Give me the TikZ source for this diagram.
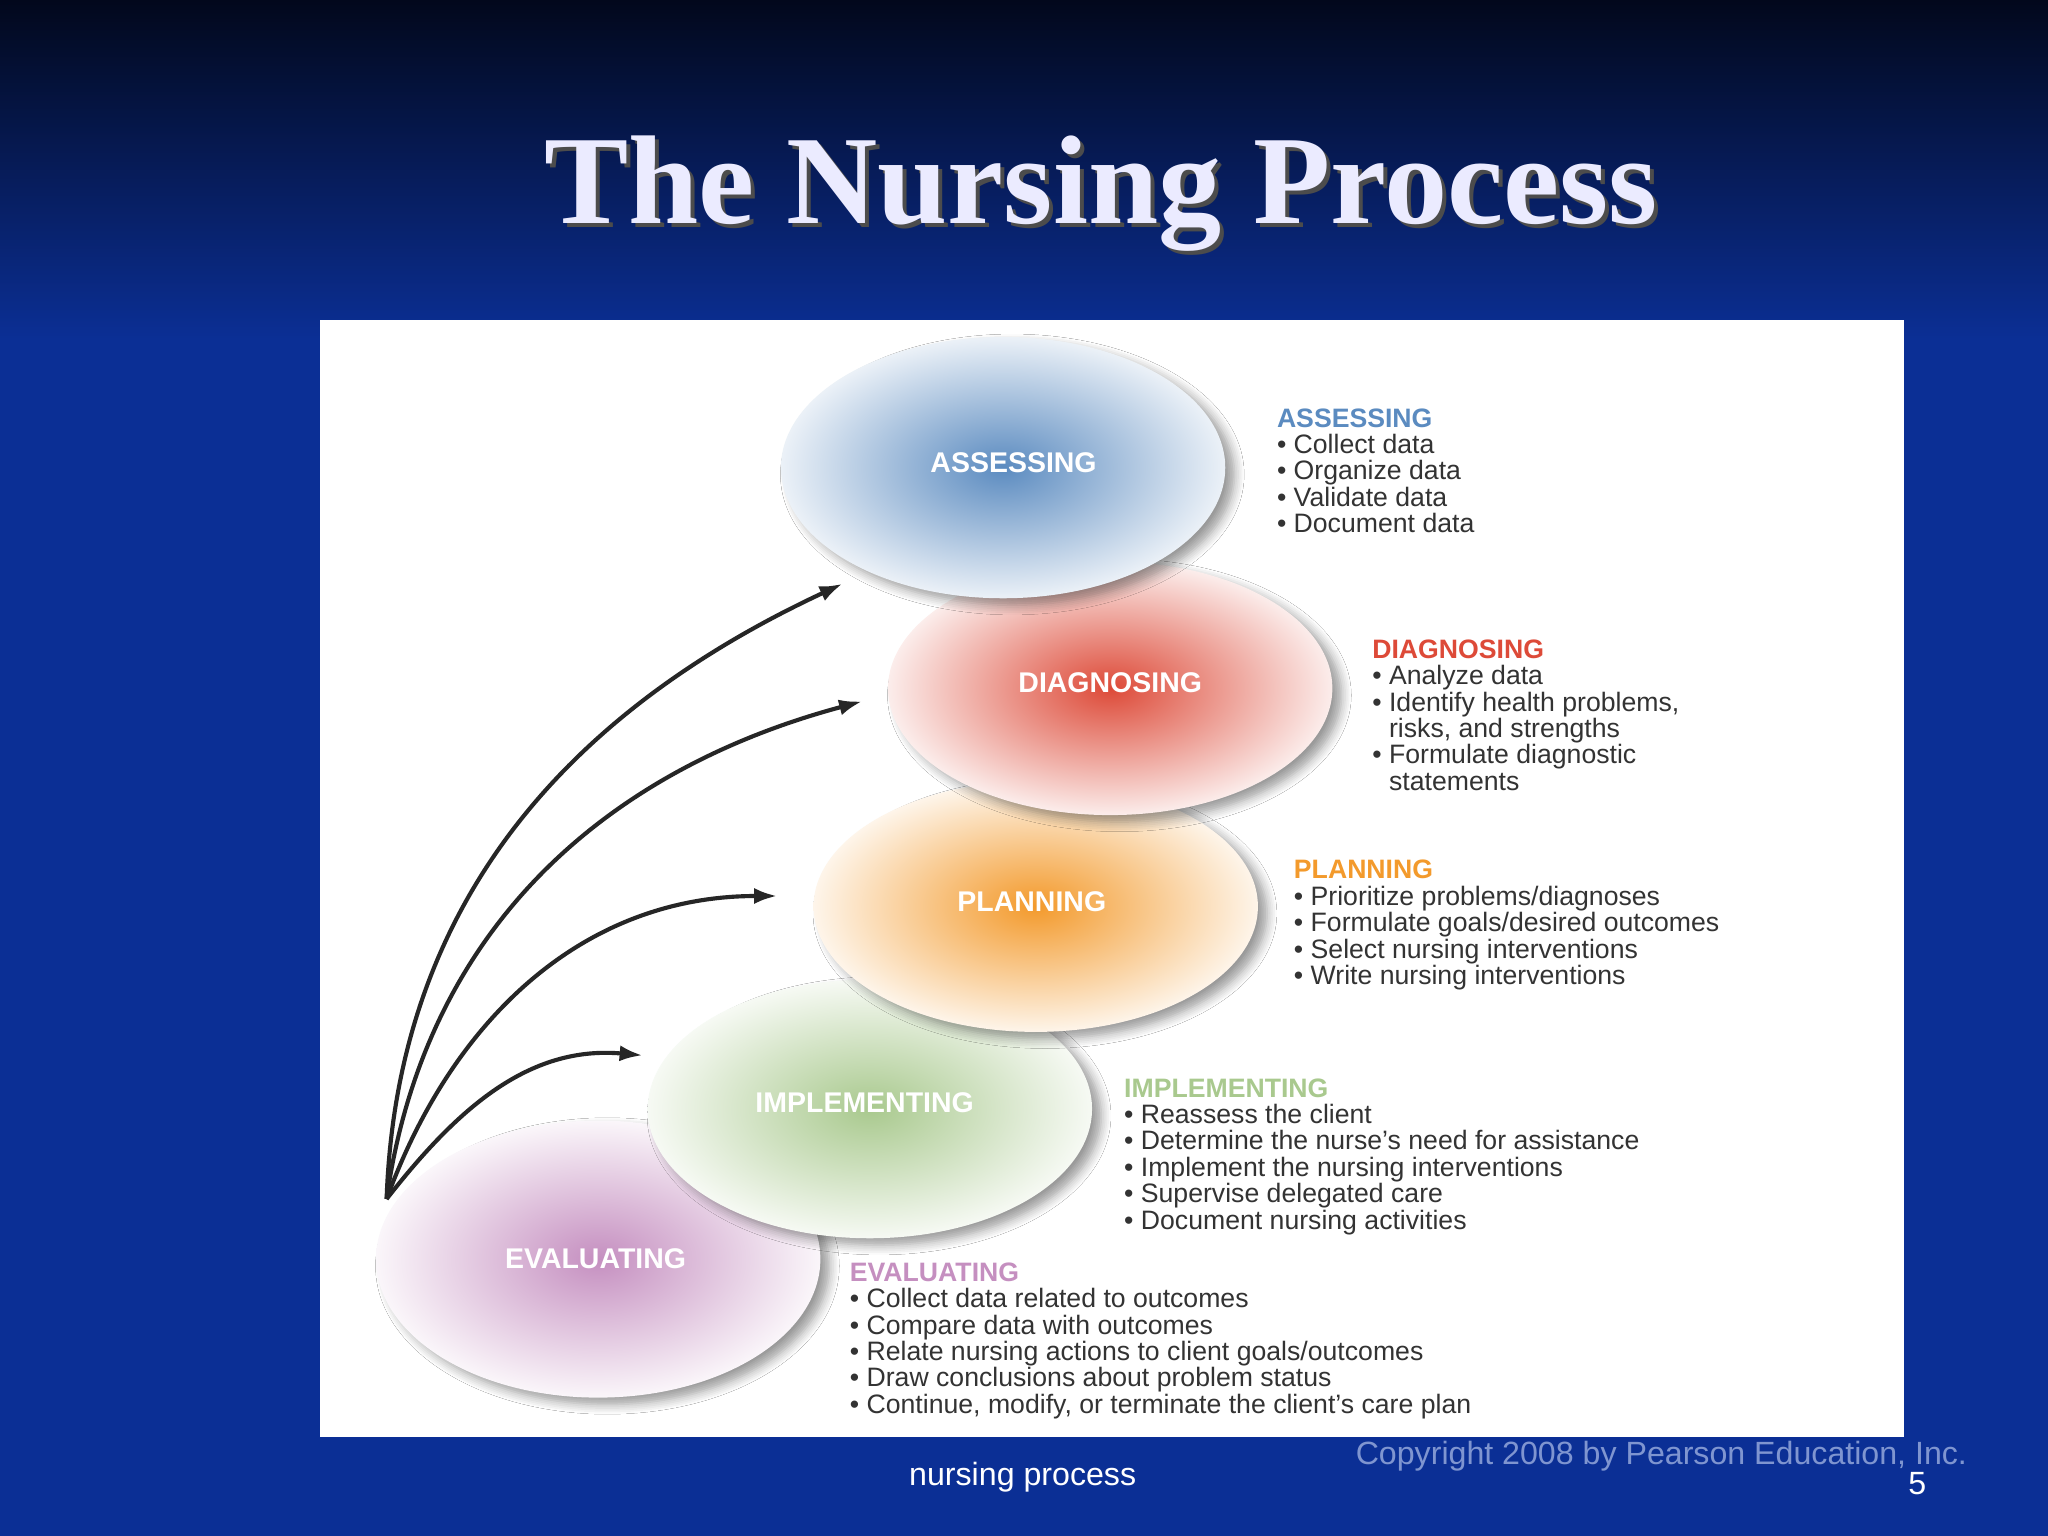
\documentclass[tikz,border=0pt]{standalone}
\usepackage{fontspec}
\setmainfont{Liberation Sans}
\newfontfamily\serifb{Liberation Serif}
\usetikzlibrary{shadings,shadows.blur,shapes.geometric,arrows.meta}
\definecolor{bgtop}{HTML}{02081C}
\definecolor{bgbot}{HTML}{0B2F95}
\definecolor{cA}{HTML}{5B8BC0}
\definecolor{cD}{HTML}{DD4A38}
\definecolor{cP}{HTML}{F39A2C}
\definecolor{cI}{HTML}{A9C98E}
\definecolor{cE}{HTML}{C58FC0}
\definecolor{txt}{HTML}{333333}
\definecolor{copyc}{HTML}{7F95D0}
\tikzset{
  ball/.style={ellipse, minimum width=3.4cm, minimum height=1.98cm, inner sep=0pt, blur shadow={shadow xshift=2pt,shadow yshift=-1.5pt,shadow blur steps=6}},
  blab/.style={text=white, font=\bfseries\fontsize{6.2}{7}\selectfont},
  desc/.style={anchor=north west, align=left, text=txt, font=\fontsize{5.8}{5.75}\selectfont, inner sep=0pt},
  arr/.style={-{Latex[length=5pt,width=3.5pt]}, line width=0.9pt, black!85},
}
\begin{document}
\begin{tikzpicture}[x=0.01cm,y=-0.01cm]
\useasboundingbox (0,0) rectangle (1568,1176);
\shade[top color=bgtop,bottom color=bgbot] (0,0) rectangle (1568,260);
\fill[bgbot] (0,259) rectangle (1568,1176);
\node at (846,151) {\serifb\bfseries\fontsize{27.5}{30}\selectfont\color{black!70}The Nursing Process};
\node (title) at (843,148) {\serifb\bfseries\fontsize{27.5}{30}\selectfont\color{white!92!blue}The Nursing Process};
\fill[white] (245,245) rectangle (1458,1100);
\node[ball, minimum height=2.12cm, inner color=cE, outer color=cE!8] (E) at (458,964) {};
\node[ball, inner color=cI, outer color=cI!10] (I) at (666,849) {};
\node[ball, minimum height=1.92cm, inner color=cP, outer color=cP!10] (P) at (793,694) {};
\node[ball, minimum height=1.94cm, inner color=cD, outer color=cD!10] (D) at (850,527) {};
\node[ball, minimum height=2cm, inner color=cA, outer color=cA!12] (A) at (768,358) {};
\node[blab] at (776,354) {ASSESSING};
\node[blab] at (850,523) {DIAGNOSING};
\node[blab] at (790,690) {PLANNING};
\node[blab] at (662,844) {IMPLEMENTING};
\node[blab] at (456,964) {EVALUATING};
\coordinate (src) at (296,918);
\coordinate (tA) at (645,447);
\coordinate (tD) at (660,537);
\coordinate (tP) at (595,686);
\coordinate (tI) at (492,808);
\draw[arr] (src) to[out=88,in=205] (tA);
\draw[arr] (src) to[out=82,in=195] (tD);
\draw[arr] (src) to[out=70,in=180] (tP);
\draw[arr] (src) to[out=52,in=175] (tI);
\def\b{\textbullet\ }
\def\h{\phantom{\textbullet\ }}
\node[desc] (dA) at (977,312) {{\bfseries\color{cA}ASSESSING}\\\b Collect data\\\b Organize data\\\b Validate data\\\b Document data};
\node[desc] (dD) at (1050,489) {{\bfseries\color{cD}DIAGNOSING}\\\b Analyze data\\\b Identify health problems,\\\h risks, and strengths\\\b Formulate diagnostic\\\h statements};
\node[desc] (dP) at (990,658) {{\bfseries\color{cP}PLANNING}\\\b Prioritize problems/diagnoses\\\b Formulate goals/desired outcomes\\\b Select nursing interventions\\\b Write nursing interventions};
\node[desc] (dI) at (860,825) {{\bfseries\color{cI}IMPLEMENTING}\\\b Reassess the client\\\b Determine the nurse's need for assistance\\\b Implement the nursing interventions\\\b Supervise delegated care\\\b Document nursing activities};
\node[desc] (dE) at (650,966) {{\bfseries\color{cE}EVALUATING}\\\b Collect data related to outcomes\\\b Compare data with outcomes\\\b Relate nursing actions to client goals/outcomes\\\b Draw conclusions about problem status\\\b Continue, modify, or terminate the client's care plan};
\node[text=white, font=\fontsize{7}{8}\selectfont] (foot) at (783,1131) {nursing process};
\node[text=copyc, font=\fontsize{7}{8}\selectfont] (copy) at (1272,1115) {Copyright 2008 by Pearson Education, Inc.};
\node[text=white, font=\fontsize{7}{8}\selectfont] (num) at (1468,1136) {5};
\end{tikzpicture}
\end{document}
